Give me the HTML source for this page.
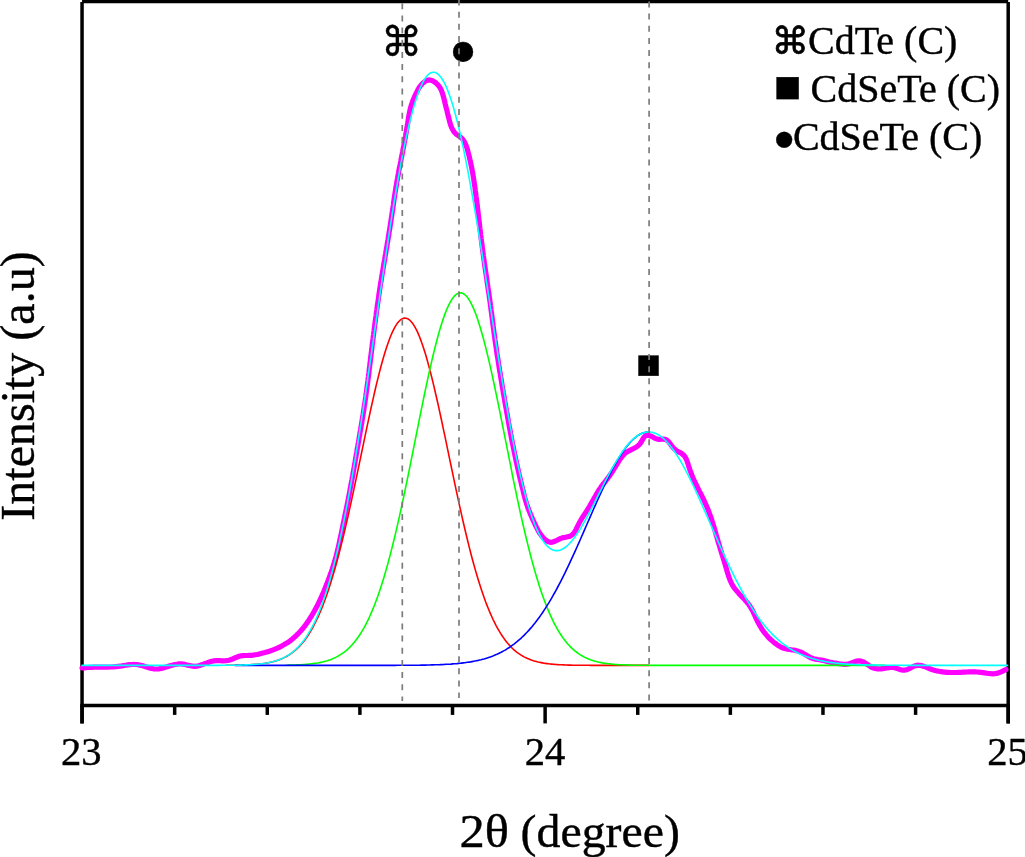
<!DOCTYPE html>
<html lang="en"><head><meta charset="utf-8"><title>XRD deconvolution 2θ 23–25</title>
<style>
html,body{margin:0;padding:0;background:#fff;}
body{width:1025px;height:857px;overflow:hidden;}
svg{display:block;}
text{font-family:"Liberation Serif","DejaVu Serif",serif;fill:#000;stroke:#000;stroke-width:0.4px;}
.sym{font-family:"DejaVu Sans","Liberation Sans",sans-serif;}
</style></head><body>
<svg width="1025" height="857" viewBox="0 0 1025 857">
<rect width="1025" height="857" fill="#fff"/>
<!-- markers in plot -->
<text class="sym" id="m_cmd" x="401.6" y="56.4" font-size="41.4" text-anchor="middle" stroke="#000" stroke-width="0.5">⌘</text>
<text id="m_dot" x="449.1" y="64.8" font-size="46.5">●</text>
<text id="m_sq" x="635.7" y="378" font-size="41.6">■</text>
<!-- frame -->
<g stroke="#000" stroke-width="3.5" fill="none" stroke-linecap="butt">
<line x1="82.05" y1="1.4" x2="1008.2" y2="1.4"/>
<line x1="82.05" y1="2" x2="82.05" y2="723.4"/>
<line x1="1008.2" y1="2" x2="1008.2" y2="723.4"/>
<line x1="80.3" y1="705.4" x2="1009.95" y2="705.4"/>
<line x1="82.05" y1="705.4" x2="82.05" y2="723.4"/><line x1="174.67" y1="705.4" x2="174.67" y2="714.9"/><line x1="267.28" y1="705.4" x2="267.28" y2="714.9"/><line x1="359.90" y1="705.4" x2="359.90" y2="714.9"/><line x1="452.51" y1="705.4" x2="452.51" y2="714.9"/><line x1="545.12" y1="705.4" x2="545.12" y2="723.4"/><line x1="637.74" y1="705.4" x2="637.74" y2="714.9"/><line x1="730.36" y1="705.4" x2="730.36" y2="714.9"/><line x1="822.97" y1="705.4" x2="822.97" y2="714.9"/><line x1="915.59" y1="705.4" x2="915.59" y2="714.9"/><line x1="1008.20" y1="705.4" x2="1008.20" y2="723.4"/>
</g>
<!-- curves -->
<g fill="none" stroke-linejoin="round" stroke-linecap="round">
<path d="M82.0,668.0 L84.0,667.8 L86.0,667.6 L88.0,667.5 L90.0,667.4 L92.0,667.3 L94.0,667.2 L96.0,667.2 L98.0,667.2 L100.0,667.2 L102.0,667.2 L104.0,667.2 L106.0,667.2 L108.0,667.1 L110.0,667.0 L112.0,667.0 L114.0,666.8 L116.0,666.7 L118.0,666.4 L120.0,666.2 L122.0,665.9 L124.0,665.5 L125.9,665.2 L127.9,664.9 L129.9,664.7 L131.9,664.5 L133.9,664.4 L135.9,664.5 L137.8,664.7 L139.8,665.1 L141.8,665.5 L143.7,666.1 L145.6,666.7 L147.6,667.3 L149.5,667.9 L151.5,668.4 L153.4,668.8 L155.3,669.0 L157.3,669.0 L159.3,668.8 L161.2,668.4 L163.2,667.9 L165.2,667.3 L167.2,666.7 L169.1,666.1 L171.1,665.5 L173.1,665.0 L175.0,664.5 L177.0,664.2 L178.9,663.9 L180.9,663.9 L182.9,664.1 L184.9,664.4 L186.8,664.9 L188.8,665.4 L190.8,665.8 L192.7,666.2 L194.7,666.3 L196.6,666.2 L198.6,665.8 L200.5,665.2 L202.4,664.6 L204.3,663.8 L206.3,663.1 L208.2,662.4 L210.1,661.8 L212.0,661.2 L213.9,660.9 L215.9,660.7 L217.9,660.7 L219.9,660.7 L222.0,660.8 L224.0,660.8 L226.0,660.7 L227.9,660.5 L229.8,660.0 L231.7,659.3 L233.6,658.5 L235.4,657.7 L237.3,657.0 L239.2,656.3 L241.1,655.9 L243.1,655.6 L245.1,655.5 L247.1,655.5 L249.1,655.4 L251.1,655.3 L253.1,655.1 L255.1,654.8 L257.1,654.5 L259.0,654.1 L261.0,653.6 L262.9,653.1 L264.9,652.6 L266.8,652.0 L268.7,651.4 L270.6,650.8 L272.5,650.1 L274.3,649.4 L276.2,648.6 L278.0,647.8 L279.8,647.0 L281.6,646.1 L283.4,645.1 L285.1,644.1 L286.8,643.1 L288.5,642.0 L290.1,640.8 L291.7,639.6 L293.2,638.3 L294.7,637.0 L296.2,635.6 L297.6,634.2 L299.0,632.7 L300.4,631.2 L301.7,629.7 L303.0,628.2 L304.3,626.6 L305.5,625.0 L306.7,623.4 L307.8,621.8 L308.9,620.1 L310.0,618.4 L311.1,616.7 L312.1,615.0 L313.1,613.3 L314.1,611.6 L315.1,609.8 L316.0,608.0 L317.0,606.3 L317.9,604.5 L318.7,602.7 L319.6,600.9 L320.4,599.1 L321.3,597.2 L322.1,595.4 L322.9,593.6 L323.7,591.7 L324.4,589.9 L325.2,588.0 L325.9,586.2 L326.7,584.3 L327.4,582.4 L328.1,580.6 L328.8,578.7 L329.5,576.8 L330.2,574.9 L330.9,573.0 L331.5,571.2 L332.2,569.3 L332.8,567.4 L333.4,565.5 L334.0,563.5 L334.6,561.6 L335.1,559.7 L335.7,557.8 L336.2,555.9 L336.7,553.9 L337.2,552.0 L337.7,550.0 L338.1,548.1 L338.6,546.2 L339.0,544.2 L339.4,542.2 L339.8,540.3 L340.2,538.3 L340.7,536.4 L341.1,534.4 L341.5,532.4 L341.9,530.5 L342.3,528.5 L342.7,526.6 L343.1,524.6 L343.5,522.6 L343.9,520.7 L344.3,518.7 L344.7,516.8 L345.1,514.8 L345.5,512.9 L345.9,510.9 L346.3,508.9 L346.7,507.0 L347.1,505.0 L347.5,503.1 L347.9,501.1 L348.3,499.1 L348.6,497.2 L349.0,495.2 L349.4,493.2 L349.8,491.3 L350.1,489.3 L350.5,487.3 L350.9,485.4 L351.2,483.4 L351.6,481.4 L352.0,479.5 L352.3,477.5 L352.7,475.5 L353.0,473.6 L353.4,471.6 L353.7,469.6 L354.1,467.7 L354.4,465.7 L354.7,463.7 L355.1,461.7 L355.4,459.8 L355.8,457.8 L356.1,455.8 L356.4,453.9 L356.8,451.9 L357.1,449.9 L357.4,447.9 L357.8,446.0 L358.1,444.0 L358.5,442.0 L358.8,440.1 L359.1,438.1 L359.5,436.1 L359.8,434.1 L360.1,432.2 L360.5,430.2 L360.8,428.2 L361.1,426.3 L361.5,424.3 L361.8,422.3 L362.1,420.3 L362.4,418.4 L362.7,416.4 L363.1,414.4 L363.4,412.4 L363.7,410.5 L364.0,408.5 L364.3,406.5 L364.6,404.5 L364.9,402.6 L365.2,400.6 L365.5,398.6 L365.8,396.6 L366.0,394.6 L366.3,392.7 L366.6,390.7 L366.8,388.7 L367.1,386.7 L367.4,384.7 L367.6,382.7 L367.9,380.8 L368.1,378.8 L368.4,376.8 L368.6,374.8 L368.9,372.8 L369.1,370.8 L369.3,368.8 L369.6,366.9 L369.8,364.9 L370.1,362.9 L370.3,360.9 L370.5,358.9 L370.8,356.9 L371.0,354.9 L371.3,353.0 L371.5,351.0 L371.8,349.0 L372.0,347.0 L372.2,345.0 L372.5,343.0 L372.7,341.1 L373.0,339.1 L373.2,337.1 L373.5,335.1 L373.7,333.1 L374.0,331.1 L374.2,329.1 L374.5,327.2 L374.8,325.2 L375.0,323.2 L375.3,321.2 L375.5,319.2 L375.8,317.2 L376.1,315.3 L376.3,313.3 L376.6,311.3 L376.9,309.3 L377.1,307.3 L377.4,305.4 L377.7,303.4 L378.0,301.4 L378.3,299.4 L378.6,297.4 L378.8,295.5 L379.1,293.5 L379.4,291.5 L379.7,289.5 L380.0,287.5 L380.3,285.6 L380.6,283.6 L381.0,281.6 L381.3,279.6 L381.6,277.7 L381.9,275.7 L382.2,273.7 L382.6,271.8 L382.9,269.8 L383.2,267.8 L383.5,265.8 L383.9,263.9 L384.2,261.9 L384.6,259.9 L384.9,257.9 L385.2,256.0 L385.6,254.0 L385.9,252.0 L386.2,250.1 L386.6,248.1 L386.9,246.1 L387.2,244.1 L387.5,242.2 L387.9,240.2 L388.2,238.2 L388.5,236.2 L388.8,234.3 L389.1,232.3 L389.5,230.3 L389.8,228.3 L390.1,226.4 L390.4,224.4 L390.7,222.4 L391.0,220.4 L391.3,218.5 L391.6,216.5 L391.9,214.5 L392.2,212.5 L392.5,210.6 L392.8,208.6 L393.1,206.6 L393.4,204.6 L393.6,202.6 L393.9,200.7 L394.2,198.7 L394.5,196.7 L394.8,194.7 L395.1,192.7 L395.4,190.8 L395.7,188.8 L396.1,186.8 L396.4,184.8 L396.7,182.9 L397.0,180.9 L397.4,178.9 L397.7,177.0 L398.1,175.0 L398.5,173.0 L398.8,171.1 L399.2,169.1 L399.6,167.1 L400.0,165.2 L400.4,163.2 L400.8,161.2 L401.1,159.3 L401.5,157.3 L401.9,155.4 L402.3,153.4 L402.7,151.4 L403.0,149.5 L403.4,147.5 L403.8,145.5 L404.1,143.6 L404.5,141.6 L404.9,139.6 L405.2,137.7 L405.6,135.7 L405.9,133.7 L406.3,131.8 L406.6,129.8 L406.9,127.8 L407.2,125.8 L407.6,123.9 L407.9,121.9 L408.2,119.9 L408.5,117.9 L408.8,116.0 L409.2,114.0 L409.6,112.0 L410.0,110.1 L410.5,108.1 L411.0,106.2 L411.6,104.3 L412.3,102.4 L412.9,100.5 L413.7,98.7 L414.5,96.8 L415.3,95.0 L416.1,93.2 L417.1,91.4 L418.0,89.6 L419.0,87.9 L420.1,86.3 L421.3,84.7 L422.7,83.2 L424.3,81.9 L426.0,80.8 L427.9,80.1 L429.9,79.9 L431.8,80.4 L433.6,81.3 L435.4,82.5 L436.9,83.9 L438.3,85.3 L439.5,86.9 L440.5,88.6 L441.4,90.4 L442.1,92.3 L442.7,94.2 L443.3,96.1 L443.8,98.1 L444.3,100.0 L444.8,102.0 L445.2,103.9 L445.7,105.9 L446.2,107.8 L446.7,109.7 L447.2,111.7 L447.6,113.6 L448.1,115.5 L448.6,117.5 L449.1,119.4 L449.6,121.4 L450.1,123.3 L450.7,125.2 L451.4,127.1 L452.3,128.9 L453.3,130.7 L454.4,132.3 L455.8,133.8 L457.4,135.0 L459.1,136.1 L460.7,137.3 L462.1,138.6 L463.4,140.2 L464.4,141.9 L465.3,143.8 L466.1,145.6 L466.8,147.5 L467.4,149.4 L467.9,151.4 L468.4,153.3 L468.9,155.2 L469.4,157.2 L469.8,159.1 L470.3,161.1 L470.7,163.0 L471.1,165.0 L471.5,166.9 L471.9,168.9 L472.3,170.9 L472.6,172.8 L473.0,174.8 L473.3,176.8 L473.6,178.7 L473.9,180.7 L474.2,182.7 L474.5,184.7 L474.8,186.7 L475.1,188.6 L475.3,190.6 L475.6,192.6 L475.9,194.6 L476.1,196.6 L476.4,198.6 L476.6,200.5 L476.9,202.5 L477.1,204.5 L477.4,206.5 L477.6,208.5 L477.8,210.5 L478.1,212.5 L478.3,214.4 L478.5,216.4 L478.8,218.4 L479.0,220.4 L479.2,222.4 L479.5,224.4 L479.7,226.4 L479.9,228.3 L480.2,230.3 L480.4,232.3 L480.6,234.3 L480.9,236.3 L481.1,238.3 L481.4,240.3 L481.6,242.2 L481.9,244.2 L482.1,246.2 L482.4,248.2 L482.6,250.2 L482.9,252.2 L483.2,254.1 L483.4,256.1 L483.7,258.1 L484.0,260.1 L484.3,262.1 L484.5,264.0 L484.8,266.0 L485.1,268.0 L485.4,270.0 L485.7,272.0 L486.0,273.9 L486.3,275.9 L486.6,277.9 L486.9,279.9 L487.1,281.9 L487.4,283.8 L487.7,285.8 L488.0,287.8 L488.3,289.8 L488.6,291.8 L488.9,293.7 L489.2,295.7 L489.4,297.7 L489.7,299.7 L490.0,301.7 L490.3,303.6 L490.5,305.6 L490.8,307.6 L491.0,309.6 L491.3,311.6 L491.6,313.6 L491.8,315.5 L492.1,317.5 L492.3,319.5 L492.6,321.5 L492.8,323.5 L493.1,325.5 L493.3,327.4 L493.6,329.4 L493.9,331.4 L494.1,333.4 L494.4,335.4 L494.7,337.4 L494.9,339.3 L495.2,341.3 L495.5,343.3 L495.8,345.3 L496.1,347.3 L496.4,349.2 L496.6,351.2 L496.9,353.2 L497.2,355.2 L497.5,357.1 L497.9,359.1 L498.2,361.1 L498.5,363.1 L498.8,365.0 L499.1,367.0 L499.4,369.0 L499.7,371.0 L500.1,372.9 L500.4,374.9 L500.7,376.9 L501.0,378.9 L501.4,380.8 L501.7,382.8 L502.0,384.8 L502.3,386.8 L502.7,388.7 L503.0,390.7 L503.3,392.7 L503.7,394.6 L504.0,396.6 L504.4,398.6 L504.7,400.6 L505.0,402.5 L505.4,404.5 L505.7,406.5 L506.1,408.4 L506.4,410.4 L506.8,412.4 L507.1,414.3 L507.5,416.3 L507.8,418.3 L508.2,420.3 L508.5,422.2 L508.9,424.2 L509.2,426.2 L509.6,428.1 L510.0,430.1 L510.3,432.1 L510.7,434.0 L511.1,436.0 L511.4,438.0 L511.8,439.9 L512.2,441.9 L512.6,443.8 L513.0,445.8 L513.4,447.8 L513.8,449.7 L514.2,451.7 L514.6,453.6 L515.0,455.6 L515.4,457.6 L515.8,459.5 L516.2,461.5 L516.7,463.4 L517.1,465.4 L517.5,467.3 L518.0,469.3 L518.4,471.2 L518.9,473.2 L519.3,475.1 L519.8,477.1 L520.2,479.0 L520.7,481.0 L521.2,482.9 L521.6,484.9 L522.1,486.8 L522.6,488.7 L523.1,490.7 L523.5,492.6 L524.0,494.6 L524.5,496.5 L525.0,498.4 L525.6,500.4 L526.1,502.3 L526.7,504.2 L527.4,506.1 L528.0,508.0 L528.7,509.9 L529.5,511.7 L530.2,513.6 L531.0,515.4 L531.8,517.3 L532.6,519.1 L533.4,520.9 L534.3,522.7 L535.1,524.5 L536.0,526.3 L536.9,528.1 L537.8,529.8 L538.7,531.6 L539.8,533.3 L540.9,534.9 L542.2,536.5 L543.6,538.1 L545.1,539.6 L546.8,540.9 L548.6,541.8 L550.4,542.3 L552.3,542.2 L554.2,541.6 L556.1,540.7 L558.0,539.7 L559.8,538.8 L561.7,538.1 L563.6,537.6 L565.6,537.2 L567.6,536.8 L569.5,536.4 L571.2,535.5 L572.7,534.4 L574.0,532.9 L575.1,531.2 L576.1,529.4 L577.0,527.4 L578.0,525.5 L578.9,523.6 L579.9,521.7 L580.9,520.0 L582.0,518.2 L583.0,516.6 L584.1,514.9 L585.2,513.3 L586.3,511.6 L587.3,510.0 L588.3,508.3 L589.4,506.6 L590.4,504.9 L591.3,503.2 L592.3,501.4 L593.3,499.7 L594.3,497.9 L595.3,496.2 L596.3,494.4 L597.3,492.7 L598.3,491.0 L599.4,489.3 L600.6,487.7 L601.7,486.0 L602.9,484.4 L604.2,482.8 L605.4,481.3 L606.6,479.7 L607.9,478.1 L609.0,476.5 L610.2,474.9 L611.3,473.2 L612.4,471.6 L613.4,469.9 L614.5,468.2 L615.5,466.5 L616.6,464.8 L617.6,463.1 L618.7,461.3 L619.8,459.6 L621.0,457.9 L622.2,456.3 L623.5,454.8 L624.9,453.4 L626.5,452.2 L628.2,451.2 L630.0,450.3 L631.8,449.4 L633.6,448.6 L635.4,447.6 L637.0,446.6 L638.6,445.3 L640.0,443.8 L641.2,442.0 L642.3,440.1 L643.4,438.1 L644.6,436.5 L646.0,435.5 L647.7,435.2 L649.7,435.7 L651.7,436.5 L653.6,437.5 L655.4,438.5 L657.3,439.1 L659.2,439.3 L661.3,439.2 L663.3,439.1 L665.2,439.3 L666.9,440.1 L668.3,441.4 L669.7,443.1 L670.9,444.8 L672.2,446.5 L673.5,448.1 L674.9,449.4 L676.5,450.6 L678.2,451.7 L680.0,452.6 L681.7,453.6 L683.3,454.8 L684.6,456.2 L685.6,457.9 L686.5,459.7 L687.2,461.6 L687.9,463.6 L688.5,465.6 L689.2,467.6 L689.8,469.6 L690.5,471.5 L691.2,473.3 L691.9,475.2 L692.7,477.0 L693.4,478.8 L694.2,480.6 L695.1,482.4 L695.9,484.2 L696.8,486.0 L697.7,487.8 L698.6,489.6 L699.5,491.4 L700.4,493.1 L701.3,494.9 L702.2,496.7 L703.1,498.5 L704.0,500.3 L704.8,502.2 L705.6,504.0 L706.4,505.8 L707.2,507.7 L708.0,509.5 L708.7,511.4 L709.4,513.3 L710.1,515.1 L710.8,517.0 L711.4,518.9 L712.0,520.8 L712.6,522.7 L713.2,524.6 L713.8,526.5 L714.4,528.5 L714.9,530.4 L715.5,532.3 L716.0,534.2 L716.6,536.2 L717.1,538.1 L717.7,540.0 L718.2,541.9 L718.8,543.8 L719.4,545.7 L720.0,547.6 L720.5,549.5 L721.1,551.4 L721.7,553.4 L722.3,555.3 L722.9,557.2 L723.5,559.1 L724.1,561.0 L724.7,562.9 L725.2,564.8 L725.8,566.8 L726.4,568.7 L726.9,570.7 L727.5,572.6 L728.1,574.6 L728.7,576.5 L729.4,578.4 L730.1,580.2 L730.9,582.1 L731.8,583.9 L732.7,585.6 L733.8,587.3 L734.9,588.9 L736.2,590.4 L737.5,591.9 L738.8,593.4 L740.2,594.9 L741.6,596.4 L743.0,597.8 L744.4,599.3 L745.7,600.8 L747.0,602.3 L748.3,603.9 L749.4,605.5 L750.5,607.2 L751.5,608.9 L752.5,610.6 L753.4,612.4 L754.2,614.2 L755.1,616.0 L755.9,617.9 L756.7,619.7 L757.6,621.5 L758.5,623.3 L759.5,625.1 L760.5,626.8 L761.5,628.5 L762.6,630.2 L763.8,631.8 L765.0,633.4 L766.3,634.9 L767.6,636.4 L769.0,637.9 L770.4,639.3 L771.9,640.6 L773.4,641.9 L775.0,643.2 L776.6,644.4 L778.3,645.6 L780.0,646.6 L781.8,647.5 L783.7,648.3 L785.6,648.8 L787.5,649.2 L789.5,649.5 L791.5,649.8 L793.5,650.0 L795.5,650.4 L797.4,650.9 L799.3,651.6 L801.2,652.3 L803.0,653.2 L804.7,654.2 L806.4,655.3 L808.2,656.3 L809.9,657.3 L811.7,658.1 L813.6,658.7 L815.5,659.1 L817.5,659.5 L819.5,659.8 L821.5,660.1 L823.5,660.5 L825.4,661.0 L827.3,661.5 L829.3,662.0 L831.2,662.4 L833.2,662.8 L835.1,663.1 L837.1,663.4 L839.1,663.7 L841.1,664.0 L843.1,664.2 L845.1,664.3 L847.1,664.2 L849.1,663.8 L851.0,663.1 L852.9,662.4 L854.8,661.7 L856.7,661.1 L858.7,660.9 L860.6,661.1 L862.6,661.7 L864.4,662.5 L866.2,663.6 L867.8,664.8 L869.5,665.9 L871.1,667.0 L872.9,667.8 L874.8,668.4 L876.8,668.8 L878.8,668.9 L880.9,668.9 L882.9,668.6 L884.9,668.3 L886.9,667.9 L888.9,667.6 L890.9,667.5 L892.8,667.5 L894.8,667.8 L896.8,668.4 L898.7,669.1 L900.7,669.7 L902.6,670.1 L904.5,670.2 L906.4,669.8 L908.2,669.1 L910.1,668.2 L911.9,667.2 L913.8,666.2 L915.6,665.6 L917.5,665.2 L919.4,665.3 L921.4,665.6 L923.3,666.2 L925.3,666.9 L927.2,667.7 L929.2,668.5 L931.1,669.2 L933.1,669.9 L935.0,670.4 L937.0,670.9 L938.9,671.3 L940.9,671.6 L942.8,671.9 L944.8,672.1 L946.8,672.3 L948.8,672.4 L950.8,672.5 L952.8,672.5 L954.8,672.5 L956.8,672.5 L958.8,672.4 L960.8,672.3 L962.8,672.2 L964.8,672.1 L966.8,672.0 L968.8,671.9 L970.8,671.8 L972.8,671.8 L974.8,671.8 L976.8,672.0 L978.8,672.1 L980.7,672.3 L982.7,672.6 L984.7,672.9 L986.7,673.2 L988.8,673.5 L990.8,673.7 L992.7,673.8 L994.7,673.7 L996.7,673.4 L998.6,672.8 L1000.5,672.1 L1002.3,671.3 L1004.1,670.4 L1005.9,669.4" stroke="#ff00ff" stroke-width="5.2"/>
<path d="M226.1,665.3 L227.6,665.3 L229.1,665.3 L230.6,665.3 L232.1,665.3 L233.6,665.2 L235.1,665.2 L236.6,665.2 L238.1,665.2 L239.6,665.1 L241.1,665.1 L242.6,665.0 L244.1,665.0 L245.6,664.9 L247.1,664.9 L248.6,664.8 L250.1,664.7 L251.6,664.6 L253.1,664.5 L254.6,664.4 L256.1,664.3 L257.6,664.2 L259.1,664.0 L260.6,663.9 L262.1,663.7 L263.6,663.5 L265.1,663.3 L266.6,663.0 L268.1,662.8 L269.6,662.5 L271.1,662.1 L272.6,661.8 L274.1,661.4 L275.6,661.0 L277.1,660.5 L278.6,660.0 L280.1,659.4 L281.6,658.8 L283.1,658.2 L284.6,657.4 L286.1,656.7 L287.6,655.8 L289.1,654.9 L290.6,653.9 L292.1,652.8 L293.6,651.7 L295.1,650.4 L296.6,649.1 L298.1,647.7 L299.6,646.1 L301.1,644.5 L302.6,642.8 L304.1,640.9 L305.6,638.9 L307.1,636.8 L308.6,634.5 L310.1,632.1 L311.6,629.6 L313.1,626.9 L314.6,624.0 L316.1,621.0 L317.6,617.9 L319.1,614.5 L320.6,611.0 L322.1,607.4 L323.6,603.5 L325.1,599.5 L326.6,595.3 L328.1,590.9 L329.6,586.3 L331.1,581.6 L332.6,576.6 L334.1,571.5 L335.6,566.2 L337.1,560.8 L338.6,555.1 L340.1,549.3 L341.6,543.4 L343.1,537.3 L344.6,531.0 L346.1,524.6 L347.6,518.0 L349.1,511.4 L350.6,504.6 L352.1,497.7 L353.6,490.7 L355.1,483.7 L356.6,476.6 L358.1,469.4 L359.6,462.2 L361.1,455.0 L362.6,447.8 L364.1,440.6 L365.6,433.4 L367.1,426.3 L368.6,419.3 L370.1,412.3 L371.6,405.5 L373.1,398.8 L374.6,392.2 L376.1,385.8 L377.6,379.6 L379.1,373.6 L380.6,367.8 L382.1,362.3 L383.6,357.0 L385.1,352.0 L386.6,347.3 L388.1,342.9 L389.6,338.8 L391.1,335.0 L392.6,331.6 L394.1,328.6 L395.6,325.9 L397.1,323.6 L398.6,321.7 L400.1,320.2 L401.6,319.1 L403.1,318.4 L404.6,318.1 L406.1,318.2 L407.6,318.7 L409.1,319.7 L410.6,321.0 L412.1,322.7 L413.6,324.8 L415.1,327.3 L416.6,330.2 L418.1,333.4 L419.6,337.0 L421.1,340.9 L422.6,345.2 L424.1,349.8 L425.6,354.6 L427.1,359.8 L428.6,365.2 L430.1,370.9 L431.6,376.8 L433.1,382.9 L434.6,389.2 L436.1,395.7 L437.6,402.3 L439.1,409.1 L440.6,416.0 L442.1,423.0 L443.6,430.1 L445.1,437.2 L446.6,444.4 L448.1,451.6 L449.6,458.8 L451.1,466.0 L452.6,473.2 L454.1,480.4 L455.6,487.4 L457.1,494.4 L458.6,501.4 L460.1,508.2 L461.6,514.9 L463.1,521.5 L464.6,528.0 L466.1,534.3 L467.6,540.5 L469.1,546.6 L470.6,552.5 L472.1,558.2 L473.6,563.7 L475.1,569.1 L476.6,574.3 L478.1,579.3 L479.6,584.1 L481.1,588.8 L482.6,593.3 L484.1,597.5 L485.6,601.7 L487.1,605.6 L488.6,609.3 L490.1,612.9 L491.6,616.3 L493.1,619.6 L494.6,622.6 L496.1,625.6 L497.6,628.3 L499.1,630.9 L500.6,633.4 L502.1,635.7 L503.6,637.9 L505.1,640.0 L506.6,641.9 L508.1,643.7 L509.6,645.4 L511.1,647.0 L512.5,648.5 L514.0,649.8 L515.5,651.1 L517.0,652.3 L518.5,653.4 L520.0,654.4 L521.5,655.4 L523.0,656.3 L524.5,657.1 L526.0,657.8 L527.5,658.5 L529.0,659.1 L530.5,659.7 L532.0,660.3 L533.5,660.8 L535.0,661.2 L536.5,661.6 L538.0,662.0 L539.5,662.3 L541.0,662.6 L542.5,662.9 L544.0,663.2 L545.5,663.4 L547.0,663.6 L548.5,663.8 L550.0,664.0 L551.5,664.1 L553.0,664.3 L554.5,664.4 L556.0,664.5 L557.5,664.6 L559.0,664.7 L560.5,664.8 L562.0,664.8 L563.5,664.9 L565.0,665.0 L566.5,665.0 L568.0,665.1 L569.5,665.1 L571.0,665.1 L572.5,665.2 L574.0,665.2 L575.5,665.2 L577.0,665.2 L578.5,665.3 L580.0,665.3 L581.5,665.3 L583.0,665.3 L584.5,665.3 L586.0,665.3 L587.5,665.3 L589.0,665.3 L590.5,665.4 L592.0,665.4 L593.5,665.4 L595.0,665.4 L596.5,665.4 L598.0,665.4 L599.5,665.4 L601.0,665.4 L602.5,665.4 L604.0,665.4 L605.5,665.4 L607.0,665.4 L608.5,665.4 L610.0,665.4 L611.5,665.4 L613.0,665.4 L614.5,665.4 L616.0,665.4 L617.5,665.4 L619.0,665.4 L620.5,665.4 L622.0,665.4 L623.5,665.4 L625.0,665.4 L626.5,665.4 L628.0,665.4 L629.5,665.4 L631.0,665.4 L632.5,665.4 L634.0,665.4 L635.5,665.4 L637.0,665.4 L638.5,665.4 L640.0,665.4 L641.5,665.4 L643.0,665.4 L644.5,665.4 L646.0,665.4 L647.5,665.4 L649.0,665.4" stroke="#ff0000" stroke-width="1.6"/>
<path d="M286.1,665.2 L287.6,665.2 L289.1,665.1 L290.6,665.1 L292.1,665.1 L293.6,665.0 L295.1,665.0 L296.6,664.9 L298.1,664.8 L299.6,664.8 L301.1,664.7 L302.6,664.6 L304.1,664.5 L305.6,664.4 L307.1,664.3 L308.6,664.1 L310.1,664.0 L311.6,663.8 L313.1,663.6 L314.6,663.4 L316.1,663.2 L317.6,663.0 L319.1,662.7 L320.6,662.4 L322.1,662.1 L323.6,661.7 L325.1,661.3 L326.6,660.9 L328.1,660.4 L329.6,659.9 L331.1,659.4 L332.6,658.8 L334.1,658.1 L335.6,657.4 L337.1,656.6 L338.6,655.8 L340.1,654.9 L341.6,653.9 L343.1,652.9 L344.6,651.8 L346.1,650.6 L347.6,649.3 L349.1,647.9 L350.6,646.4 L352.1,644.8 L353.6,643.1 L355.1,641.2 L356.6,639.3 L358.1,637.2 L359.6,635.0 L361.1,632.7 L362.6,630.2 L364.1,627.6 L365.6,624.8 L367.1,621.9 L368.6,618.8 L370.1,615.5 L371.6,612.1 L373.1,608.5 L374.6,604.8 L376.1,600.8 L377.6,596.7 L379.1,592.4 L380.6,587.9 L382.1,583.2 L383.6,578.4 L385.1,573.3 L386.6,568.1 L388.1,562.7 L389.6,557.1 L391.1,551.4 L392.6,545.4 L394.1,539.3 L395.6,533.1 L397.1,526.6 L398.6,520.1 L400.1,513.4 L401.6,506.5 L403.1,499.5 L404.6,492.4 L406.1,485.2 L407.6,478.0 L409.1,470.6 L410.6,463.2 L412.1,455.7 L413.6,448.2 L415.1,440.7 L416.6,433.1 L418.1,425.6 L419.6,418.1 L421.1,410.7 L422.6,403.3 L424.1,396.0 L425.6,388.9 L427.1,381.8 L428.6,374.9 L430.1,368.2 L431.6,361.6 L433.1,355.2 L434.6,349.1 L436.1,343.2 L437.6,337.5 L439.1,332.1 L440.6,327.0 L442.1,322.2 L443.6,317.7 L445.1,313.6 L446.6,309.8 L448.1,306.4 L449.6,303.3 L451.1,300.6 L452.6,298.3 L454.1,296.4 L455.6,294.9 L457.1,293.8 L458.6,293.1 L460.1,292.8 L461.6,292.9 L463.1,293.5 L464.6,294.5 L466.1,295.8 L467.6,297.6 L469.1,299.8 L470.6,302.3 L472.1,305.3 L473.6,308.6 L475.1,312.3 L476.6,316.3 L478.1,320.7 L479.6,325.4 L481.1,330.4 L482.6,335.7 L484.1,341.2 L485.6,347.1 L487.1,353.1 L488.6,359.4 L490.1,365.9 L491.6,372.6 L493.1,379.5 L494.6,386.5 L496.1,393.6 L497.6,400.9 L499.1,408.2 L500.6,415.6 L502.1,423.1 L503.6,430.6 L505.1,438.2 L506.6,445.7 L508.1,453.2 L509.6,460.7 L511.1,468.1 L512.5,475.5 L514.0,482.8 L515.5,490.0 L517.0,497.2 L518.5,504.2 L520.0,511.1 L521.5,517.8 L523.0,524.5 L524.5,530.9 L526.0,537.3 L527.5,543.4 L529.0,549.4 L530.5,555.2 L532.0,560.9 L533.5,566.3 L535.0,571.6 L536.5,576.7 L538.0,581.6 L539.5,586.4 L541.0,590.9 L542.5,595.3 L544.0,599.5 L545.5,603.5 L547.0,607.3 L548.5,610.9 L550.0,614.4 L551.5,617.7 L553.0,620.9 L554.5,623.8 L556.0,626.7 L557.5,629.3 L559.0,631.9 L560.5,634.2 L562.0,636.5 L563.5,638.6 L565.0,640.6 L566.5,642.5 L568.0,644.2 L569.5,645.8 L571.0,647.4 L572.5,648.8 L574.0,650.1 L575.5,651.4 L577.0,652.5 L578.5,653.6 L580.0,654.6 L581.5,655.5 L583.0,656.4 L584.5,657.2 L586.0,657.9 L587.5,658.6 L589.0,659.2 L590.5,659.8 L592.0,660.3 L593.5,660.8 L595.0,661.2 L596.5,661.6 L598.0,662.0 L599.5,662.3 L601.0,662.6 L602.5,662.9 L604.0,663.1 L605.5,663.4 L607.0,663.6 L608.5,663.8 L610.0,663.9 L611.5,664.1 L613.0,664.2 L614.5,664.4 L616.0,664.5 L617.5,664.6 L619.0,664.7 L620.5,664.7 L622.0,664.8 L623.5,664.9 L625.0,664.9 L626.5,665.0 L628.0,665.0 L629.5,665.1 L631.0,665.1 L632.5,665.2 L634.0,665.2 L635.5,665.2 L637.0,665.2 L638.5,665.3 L640.0,665.3 L641.5,665.3 L643.0,665.3 L644.5,665.3 L646.0,665.3 L647.5,665.3 L649.0,665.3 L650.5,665.4 L652.0,665.4 L653.5,665.4 L655.0,665.4 L656.5,665.4 L658.0,665.4 L659.5,665.4 L661.0,665.4 L662.5,665.4 L664.0,665.4 L665.5,665.4 L667.0,665.4 L668.5,665.4 L670.0,665.4 L671.5,665.4 L673.0,665.4 L674.5,665.4 L676.0,665.4 L677.5,665.4 L679.0,665.4 L680.5,665.4 L682.0,665.4 L683.5,665.4 L685.0,665.4 L686.5,665.4 L688.0,665.4 L689.5,665.4 L691.0,665.4 L692.5,665.4 L694.0,665.4 L695.5,665.4 L697.0,665.4 L698.5,665.4 L700.0,665.4 L701.5,665.4 L703.0,665.4 L704.5,665.4 L706.0,665.4 L707.5,665.4 L709.0,665.4 L710.5,665.4 L712.0,665.4 L713.5,665.4 L715.0,665.4 L716.5,665.4 L718.0,665.4 L719.5,665.4 L721.0,665.4 L722.5,665.4 L724.0,665.4 L725.5,665.4 L727.0,665.4 L728.5,665.4 L730.0,665.4 L731.5,665.4 L733.0,665.4 L734.5,665.4 L736.0,665.4 L737.5,665.4 L739.0,665.4 L740.5,665.4 L742.0,665.4 L743.5,665.4 L745.0,665.4 L746.5,665.4 L748.0,665.4 L749.5,665.4 L751.0,665.4 L752.5,665.4 L754.0,665.4 L755.5,665.4 L757.0,665.4 L758.5,665.4 L760.0,665.4 L761.5,665.4 L763.0,665.4 L764.5,665.4 L766.0,665.4 L767.5,665.4 L769.0,665.4 L770.5,665.4 L772.0,665.4 L773.5,665.4 L775.0,665.4 L776.5,665.4 L778.0,665.4 L779.5,665.4 L781.0,665.4 L782.5,665.4 L784.0,665.4 L785.5,665.4 L787.0,665.4 L788.5,665.4 L790.0,665.4 L791.5,665.4 L793.0,665.4 L794.5,665.4 L796.0,665.4 L797.5,665.4 L799.0,665.4 L800.5,665.4 L802.0,665.4 L803.5,665.4 L805.0,665.4 L806.5,665.4 L808.0,665.4 L809.5,665.4 L811.0,665.4 L812.5,665.4 L814.0,665.4 L815.5,665.4 L817.0,665.4 L818.5,665.4 L820.0,665.4 L821.5,665.4 L823.0,665.4 L824.5,665.4 L826.0,665.4 L827.5,665.4 L829.0,665.4 L830.5,665.4 L832.0,665.4 L833.5,665.4 L835.0,665.4 L836.5,665.4 L838.0,665.4 L839.5,665.4 L841.0,665.4 L842.5,665.4 L844.0,665.4 L845.5,665.4 L847.0,665.4 L848.5,665.4 L850.0,665.4 L851.5,665.4 L853.0,665.4 L854.5,665.4 L856.0,665.4 L857.5,665.4 L859.0,665.4 L860.5,665.4 L862.0,665.4 L863.5,665.4 L865.0,665.4 L866.5,665.4 L868.0,665.4 L869.5,665.4 L871.0,665.4 L872.5,665.4 L874.0,665.4 L875.5,665.4 L877.0,665.4 L878.5,665.4 L880.0,665.4 L881.5,665.4 L883.0,665.4 L884.5,665.4" stroke="#00ff00" stroke-width="1.6"/>
<path d="M235.1,665.4 L236.6,665.4 L238.1,665.4 L239.6,665.4 L241.1,665.4 L242.6,665.4 L244.1,665.4 L245.6,665.4 L247.1,665.4 L248.6,665.4 L250.1,665.4 L251.6,665.4 L253.1,665.4 L254.6,665.4 L256.1,665.4 L257.6,665.4 L259.1,665.4 L260.6,665.4 L262.1,665.4 L263.6,665.4 L265.1,665.4 L266.6,665.4 L268.1,665.4 L269.6,665.4 L271.1,665.4 L272.6,665.4 L274.1,665.4 L275.6,665.4 L277.1,665.4 L278.6,665.4 L280.1,665.4 L281.6,665.4 L283.1,665.4 L284.6,665.4 L286.1,665.4 L287.6,665.4 L289.1,665.4 L290.6,665.4 L292.1,665.4 L293.6,665.4 L295.1,665.4 L296.6,665.4 L298.1,665.4 L299.6,665.4 L301.1,665.4 L302.6,665.4 L304.1,665.4 L305.6,665.4 L307.1,665.4 L308.6,665.4 L310.1,665.4 L311.6,665.4 L313.1,665.4 L314.6,665.4 L316.1,665.4 L317.6,665.4 L319.1,665.4 L320.6,665.4 L322.1,665.4 L323.6,665.4 L325.1,665.4 L326.6,665.4 L328.1,665.4 L329.6,665.4 L331.1,665.4 L332.6,665.4 L334.1,665.4 L335.6,665.4 L337.1,665.4 L338.6,665.4 L340.1,665.4 L341.6,665.4 L343.1,665.4 L344.6,665.4 L346.1,665.4 L347.6,665.4 L349.1,665.4 L350.6,665.4 L352.1,665.4 L353.6,665.4 L355.1,665.4 L356.6,665.4 L358.1,665.4 L359.6,665.4 L361.1,665.4 L362.6,665.4 L364.1,665.4 L365.6,665.4 L367.1,665.4 L368.6,665.4 L370.1,665.4 L371.6,665.4 L373.1,665.4 L374.6,665.4 L376.1,665.4 L377.6,665.4 L379.1,665.4 L380.6,665.4 L382.1,665.4 L383.6,665.4 L385.1,665.4 L386.6,665.4 L388.1,665.4 L389.6,665.4 L391.1,665.4 L392.6,665.4 L394.1,665.4 L395.6,665.4 L397.1,665.3 L398.6,665.3 L400.1,665.3 L401.6,665.3 L403.1,665.3 L404.6,665.3 L406.1,665.3 L407.6,665.3 L409.1,665.3 L410.6,665.3 L412.1,665.3 L413.6,665.2 L415.1,665.2 L416.6,665.2 L418.1,665.2 L419.6,665.2 L421.1,665.1 L422.6,665.1 L424.1,665.1 L425.6,665.1 L427.1,665.0 L428.6,665.0 L430.1,665.0 L431.6,664.9 L433.1,664.9 L434.6,664.8 L436.1,664.8 L437.6,664.7 L439.1,664.7 L440.6,664.6 L442.1,664.6 L443.6,664.5 L445.1,664.4 L446.6,664.3 L448.1,664.2 L449.6,664.2 L451.1,664.1 L452.6,663.9 L454.1,663.8 L455.6,663.7 L457.1,663.6 L458.6,663.4 L460.1,663.3 L461.6,663.1 L463.1,662.9 L464.6,662.7 L466.1,662.5 L467.6,662.3 L469.1,662.1 L470.6,661.9 L472.1,661.6 L473.6,661.3 L475.1,661.0 L476.6,660.7 L478.1,660.4 L479.6,660.0 L481.1,659.7 L482.6,659.3 L484.1,658.9 L485.6,658.4 L487.1,658.0 L488.6,657.5 L490.1,657.0 L491.6,656.4 L493.1,655.9 L494.6,655.2 L496.1,654.6 L497.6,653.9 L499.1,653.2 L500.6,652.5 L502.1,651.7 L503.6,650.9 L505.1,650.1 L506.6,649.2 L508.1,648.2 L509.6,647.3 L511.1,646.2 L512.5,645.2 L514.0,644.1 L515.5,642.9 L517.0,641.7 L518.5,640.4 L520.0,639.1 L521.5,637.8 L523.0,636.3 L524.5,634.9 L526.0,633.3 L527.5,631.8 L529.0,630.1 L530.5,628.4 L532.0,626.7 L533.5,624.8 L535.0,623.0 L536.5,621.0 L538.0,619.0 L539.5,617.0 L541.0,614.9 L542.5,612.7 L544.0,610.4 L545.5,608.1 L547.0,605.7 L548.5,603.3 L550.0,600.8 L551.5,598.3 L553.0,595.7 L554.5,593.0 L556.0,590.3 L557.5,587.5 L559.0,584.7 L560.5,581.8 L562.0,578.8 L563.5,575.8 L565.0,572.8 L566.5,569.7 L568.0,566.6 L569.5,563.4 L571.0,560.2 L572.5,556.9 L574.0,553.6 L575.5,550.3 L577.0,547.0 L578.5,543.6 L580.0,540.2 L581.5,536.8 L583.0,533.4 L584.5,529.9 L586.0,526.5 L587.5,523.0 L589.0,519.6 L590.5,516.1 L592.0,512.7 L593.5,509.3 L595.0,505.9 L596.5,502.5 L598.0,499.2 L599.5,495.9 L601.0,492.6 L602.5,489.3 L604.0,486.1 L605.5,483.0 L607.0,479.9 L608.5,476.9 L610.0,473.9 L611.5,471.0 L613.0,468.2 L614.5,465.4 L616.0,462.8 L617.5,460.2 L619.0,457.7 L620.5,455.3 L622.0,453.0 L623.5,450.8 L625.0,448.7 L626.5,446.7 L628.0,444.9 L629.5,443.1 L631.0,441.5 L632.5,440.0 L634.0,438.6 L635.5,437.3 L637.0,436.2 L638.5,435.2 L640.0,434.3 L641.5,433.6 L643.0,433.0 L644.5,432.6 L646.0,432.2 L647.5,432.0" stroke="#0000ff" stroke-width="1.6"/>
<path d="M82.0,665.4 L83.5,665.4 L85.0,665.4 L86.5,665.4 L88.0,665.4 L89.5,665.4 L91.0,665.4 L92.5,665.4 L94.0,665.4 L95.5,665.4 L97.0,665.4 L98.5,665.4 L100.0,665.4 L101.5,665.4 L103.0,665.4 L104.5,665.4 L106.0,665.4 L107.5,665.4 L109.0,665.4 L110.5,665.4 L112.0,665.4 L113.5,665.4 L115.0,665.4 L116.5,665.4 L118.0,665.4 L119.5,665.4 L121.0,665.4 L122.5,665.4 L124.0,665.4 L125.5,665.4 L127.0,665.4 L128.6,665.4 L130.1,665.4 L131.6,665.4 L133.1,665.4 L134.6,665.4 L136.1,665.4 L137.6,665.4 L139.1,665.4 L140.6,665.4 L142.1,665.4 L143.6,665.4 L145.1,665.4 L146.6,665.4 L148.1,665.4 L149.6,665.4 L151.1,665.4 L152.6,665.4 L154.1,665.4 L155.6,665.4 L157.1,665.4 L158.6,665.4 L160.1,665.4 L161.6,665.4 L163.1,665.4 L164.6,665.4 L166.1,665.4 L167.6,665.4 L169.1,665.4 L170.6,665.4 L172.1,665.4 L173.6,665.4 L175.1,665.4 L176.6,665.4 L178.1,665.4 L179.6,665.4 L181.1,665.4 L182.6,665.4 L184.1,665.4 L185.6,665.4 L187.1,665.4 L188.6,665.4 L190.1,665.4 L191.6,665.4 L193.1,665.4 L194.6,665.4 L196.1,665.4 L197.6,665.4 L199.1,665.4 L200.6,665.4 L202.1,665.4 L203.6,665.4 L205.1,665.4 L206.6,665.4 L208.1,665.4 L209.6,665.4 L211.1,665.4 L212.6,665.4 L214.1,665.4 L215.6,665.4 L217.1,665.4 L218.6,665.4 L220.1,665.4 L221.6,665.3 L223.1,665.3 L224.6,665.3 L226.1,665.3 L227.6,665.3 L229.1,665.3 L230.6,665.3 L232.1,665.3 L233.6,665.2 L235.1,665.2 L236.6,665.2 L238.1,665.2 L239.6,665.1 L241.1,665.1 L242.6,665.0 L244.1,665.0 L245.6,664.9 L247.1,664.9 L248.6,664.8 L250.1,664.7 L251.6,664.6 L253.1,664.5 L254.6,664.4 L256.1,664.3 L257.6,664.2 L259.1,664.0 L260.6,663.9 L262.1,663.7 L263.6,663.5 L265.1,663.2 L266.6,663.0 L268.1,662.7 L269.6,662.4 L271.1,662.1 L272.6,661.7 L274.1,661.3 L275.6,660.9 L277.1,660.4 L278.6,659.9 L280.1,659.3 L281.6,658.7 L283.1,658.0 L284.6,657.3 L286.1,656.4 L287.6,655.6 L289.1,654.6 L290.6,653.6 L292.1,652.5 L293.6,651.3 L295.1,650.0 L296.6,648.6 L298.1,647.1 L299.6,645.5 L301.1,643.8 L302.6,642.0 L304.1,640.0 L305.6,637.9 L307.1,635.6 L308.6,633.2 L310.1,630.7 L311.6,628.0 L313.1,625.1 L314.6,622.1 L316.1,618.8 L317.6,615.4 L319.1,611.8 L320.6,608.0 L322.1,604.0 L323.6,599.8 L325.1,595.4 L326.6,590.8 L328.1,585.9 L329.6,580.9 L331.1,575.5 L332.6,570.0 L334.1,564.3 L335.6,558.3 L337.1,552.0 L338.6,545.6 L340.1,538.9 L341.6,531.9 L343.1,524.7 L344.6,517.4 L346.1,509.7 L347.6,501.9 L349.1,493.8 L350.6,485.5 L352.1,477.1 L353.6,468.4 L355.1,459.5 L356.6,450.4 L358.1,441.2 L359.6,431.8 L361.1,422.3 L362.6,412.6 L364.1,402.8 L365.6,392.8 L367.1,382.8 L368.6,372.7 L370.1,362.5 L371.6,352.2 L373.1,341.9 L374.6,331.6 L376.1,321.2 L377.6,310.9 L379.1,300.6 L380.6,290.3 L382.1,280.1 L383.6,270.0 L385.1,259.9 L386.6,250.0 L388.1,240.2 L389.6,230.5 L391.1,221.0 L392.6,211.6 L394.1,202.5 L395.6,193.5 L397.1,184.8 L398.6,176.3 L400.1,168.1 L401.6,160.1 L403.1,152.5 L404.6,145.1 L406.1,138.0 L407.6,131.2 L409.1,124.7 L410.6,118.6 L412.1,112.9 L413.6,107.4 L415.1,102.4 L416.6,97.7 L418.1,93.4 L419.6,89.5 L421.1,86.0 L422.6,82.8 L424.1,80.1 L425.6,77.8 L427.1,75.8 L428.6,74.3 L430.1,73.2 L431.6,72.5 L433.1,72.2 L434.6,72.3 L436.1,72.9 L437.6,73.8 L439.1,75.1 L440.6,76.9 L442.1,79.0 L443.6,81.5 L445.1,84.4 L446.6,87.7 L448.1,91.4 L449.6,95.5 L451.1,99.9 L452.6,104.6 L454.1,109.8 L455.6,115.2 L457.1,121.0 L458.6,127.1 L460.1,133.5 L461.6,140.2 L463.1,147.2 L464.6,154.4 L466.1,161.9 L467.6,169.7 L469.1,177.6 L470.6,185.8 L472.1,194.3 L473.6,202.8 L475.1,211.6 L476.6,220.5 L478.1,229.6 L479.6,238.8 L481.1,248.0 L482.6,257.4 L484.1,266.9 L485.6,276.4 L487.1,285.9 L488.6,295.5 L490.1,305.0 L491.6,314.6 L493.1,324.1 L494.6,333.6 L496.1,343.0 L497.6,352.4 L499.1,361.6 L500.6,370.7 L502.1,379.8 L503.6,388.7 L505.1,397.4 L506.6,406.0 L508.1,414.3 L509.6,422.6 L511.1,430.6 L512.5,438.4 L514.0,445.9 L515.5,453.3 L517.0,460.4 L518.5,467.2 L520.0,473.8 L521.5,480.2 L523.0,486.3 L524.5,492.1 L526.0,497.6 L527.5,502.9 L529.0,507.9 L530.5,512.6 L532.0,517.0 L533.5,521.1 L535.0,525.0 L536.5,528.6 L538.0,531.9 L539.5,534.9 L541.0,537.6 L542.5,540.1 L544.0,542.3 L545.5,544.2 L547.0,545.8 L548.5,547.2 L550.0,548.4 L551.5,549.3 L553.0,550.0 L554.5,550.4 L556.0,550.6 L557.5,550.6 L559.0,550.4 L560.5,550.0 L562.0,549.3 L563.5,548.5 L565.0,547.5 L566.5,546.4 L568.0,545.0 L569.5,543.5 L571.0,541.9 L572.5,540.1 L574.0,538.2 L575.5,536.1 L577.0,533.9 L578.5,531.7 L580.0,529.3 L581.5,526.8 L583.0,524.2 L584.5,521.6 L586.0,518.9 L587.5,516.1 L589.0,513.3 L590.5,510.5 L592.0,507.5 L593.5,504.6 L595.0,501.7 L596.5,498.7 L598.0,495.7 L599.5,492.7 L601.0,489.8 L602.5,486.8 L604.0,483.9 L605.5,480.9 L607.0,478.1 L608.5,475.2 L610.0,472.4 L611.5,469.7 L613.0,467.0 L614.5,464.4 L616.0,461.8 L617.5,459.3 L619.0,457.0 L620.5,454.6 L622.0,452.4 L623.5,450.3 L625.0,448.3 L626.5,446.3 L628.0,444.5 L629.5,442.8 L631.0,441.2 L632.5,439.7 L634.0,438.4 L635.5,437.1 L637.0,436.0 L638.5,435.1 L640.0,434.2 L641.5,433.5 L643.0,432.9 L644.5,432.5 L646.0,432.2 L647.5,432.0 L649.0,431.9 L650.5,432.0 L652.0,432.3 L653.5,432.7 L655.0,433.2 L656.5,433.8 L658.0,434.6 L659.5,435.5 L661.0,436.6 L662.5,437.7 L664.0,439.0 L665.5,440.5 L667.0,442.0 L668.5,443.7 L670.0,445.5 L671.5,447.4 L673.0,449.4 L674.5,451.5 L676.0,453.8 L677.5,456.1 L679.0,458.5 L680.5,461.0 L682.0,463.6 L683.5,466.3 L685.0,469.1 L686.5,472.0 L688.0,474.9 L689.5,477.9 L691.0,480.9 L692.5,484.0 L694.0,487.2 L695.5,490.4 L697.0,493.7 L698.5,497.0 L700.0,500.3 L701.5,503.6 L703.0,507.0 L704.5,510.4 L706.0,513.9 L707.5,517.3 L709.0,520.7 L710.5,524.2 L712.0,527.6 L713.5,531.1 L715.0,534.5 L716.5,537.9 L718.0,541.3 L719.5,544.7 L721.0,548.1 L722.5,551.4 L724.0,554.7 L725.5,558.0 L727.0,561.2 L728.5,564.4 L730.0,567.6 L731.5,570.7 L733.0,573.8 L734.5,576.8 L736.0,579.8 L737.5,582.7 L739.0,585.6 L740.5,588.4 L742.0,591.2 L743.5,593.9 L745.0,596.5 L746.5,599.1 L748.0,601.7 L749.5,604.1 L751.0,606.5 L752.5,608.9 L754.0,611.2 L755.5,613.4 L757.0,615.6 L758.5,617.7 L760.0,619.7 L761.5,621.7 L763.0,623.6 L764.5,625.5 L766.0,627.3 L767.5,629.0 L769.0,630.7 L770.5,632.3 L772.0,633.9 L773.5,635.4 L775.0,636.8 L776.5,638.2 L778.0,639.6 L779.5,640.9 L781.0,642.1 L782.5,643.3 L784.0,644.4 L785.5,645.5 L787.0,646.6 L788.5,647.6 L790.0,648.6 L791.5,649.5 L793.0,650.4 L794.5,651.2 L796.0,652.0 L797.5,652.8 L799.0,653.5 L800.5,654.2 L802.0,654.8 L803.5,655.5 L805.0,656.0 L806.5,656.6 L808.0,657.1 L809.5,657.6 L811.0,658.1 L812.5,658.6 L814.0,659.0 L815.5,659.4 L817.0,659.8 L818.5,660.2 L820.0,660.5 L821.5,660.8 L823.0,661.1 L824.5,661.4 L826.0,661.7 L827.5,661.9 L829.0,662.2 L830.5,662.4 L832.0,662.6 L833.5,662.8 L835.0,663.0 L836.5,663.2 L838.0,663.3 L839.5,663.5 L841.0,663.6 L842.5,663.7 L844.0,663.9 L845.5,664.0 L847.0,664.1 L848.5,664.2 L850.0,664.3 L851.5,664.4 L853.0,664.4 L854.5,664.5 L856.0,664.6 L857.5,664.7 L859.0,664.7 L860.5,664.8 L862.0,664.8 L863.5,664.9 L865.0,664.9 L866.5,664.9 L868.0,665.0 L869.5,665.0 L871.0,665.1 L872.5,665.1 L874.0,665.1 L875.5,665.1 L877.0,665.2 L878.5,665.2 L880.0,665.2 L881.5,665.2 L883.0,665.2 L884.5,665.2 L886.0,665.3 L887.5,665.3 L889.0,665.3 L890.5,665.3 L892.0,665.3 L893.5,665.3 L895.0,665.3 L896.5,665.3 L898.0,665.3 L899.5,665.3 L901.0,665.3 L902.5,665.4 L904.0,665.4 L905.5,665.4 L907.0,665.4 L908.5,665.4 L910.0,665.4 L911.5,665.4 L913.0,665.4 L914.5,665.4 L916.0,665.4 L917.5,665.4 L919.0,665.4 L920.5,665.4 L922.0,665.4 L923.5,665.4 L925.0,665.4 L926.5,665.4 L928.0,665.4 L929.5,665.4 L931.0,665.4 L932.5,665.4 L934.0,665.4 L935.5,665.4 L937.0,665.4 L938.5,665.4 L940.0,665.4 L941.5,665.4 L943.0,665.4 L944.5,665.4 L946.0,665.4 L947.5,665.4 L949.0,665.4 L950.5,665.4 L952.0,665.4 L953.5,665.4 L955.0,665.4 L956.5,665.4 L958.0,665.4 L959.5,665.4 L961.0,665.4 L962.5,665.4 L964.0,665.4 L965.5,665.4 L967.0,665.4 L968.5,665.4 L970.0,665.4 L971.5,665.4 L973.0,665.4 L974.5,665.4 L976.0,665.4 L977.5,665.4 L979.0,665.4 L980.5,665.4 L982.0,665.4 L983.5,665.4 L985.0,665.4 L986.5,665.4 L988.0,665.4 L989.5,665.4 L991.0,665.4 L992.5,665.4 L994.0,665.4 L995.5,665.4 L997.0,665.4 L998.5,665.4 L1000.0,665.4 L1001.5,665.4 L1003.0,665.4 L1004.5,665.4 L1006.0,665.4 L1007.5,665.4" stroke="#00ffff" stroke-width="1.6"/>
</g>
<!-- dashed guides -->
<g stroke="#7c7c7c" stroke-width="1.7" stroke-dasharray="6 6.16" fill="none">
<line x1="402.3" y1="3.3" x2="402.3" y2="701"/>
<line x1="459" y1="-0.5" x2="459" y2="698"/>
<line x1="649.1" y1="1.4" x2="649.1" y2="700.5"/>
</g>
<!-- tick labels -->
<g font-size="40.6" text-anchor="middle">
<text x="81.2" y="765.1">23</text>
<text x="545" y="765.1">24</text>
<text x="1007.5" y="765.1">25</text>
</g>
<text id="xl" transform="translate(459.4,847.3) scale(1.075,1)" font-size="47">2θ</text>
<text id="xl2" transform="translate(520.6,847.3) scale(1.018,1)" font-size="47">(degree)</text>
<text id="yl" transform="translate(34.1,386) rotate(-90)" font-size="48" text-anchor="middle">Intensity (a.u)</text>
<!-- legend -->
<g font-size="40">
<text id="l1"><tspan class="sym" x="771.6" y="54.0" font-size="37.5" stroke="#000" stroke-width="0.7">⌘</tspan><tspan id="l1t" x="808" y="53.9">CdTe (C)</tspan></text>
<text id="l2"><tspan x="773.7" y="102.1" font-size="45.6">■</tspan><tspan x="810.6" y="102.2">CdSeTe (C)</tspan></text>
<text id="l3"><tspan x="772.9" y="150.1" font-size="37">●</tspan><tspan x="792.9" y="150.2">CdSeTe (C)</tspan></text>
</g>
</svg>
</body></html>
